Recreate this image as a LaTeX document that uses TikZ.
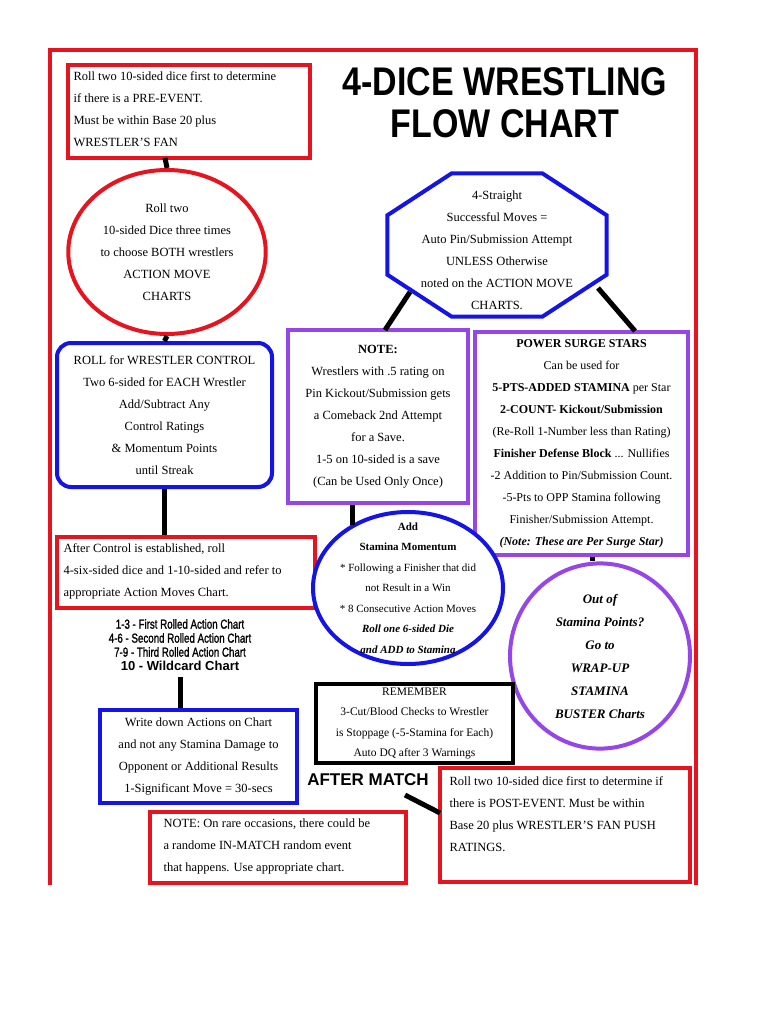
\documentclass[tikz,border=0pt]{standalone}
\usepackage{fontspec}
\setmainfont{Liberation Serif}
\setsansfont{Liberation Sans}
\usetikzlibrary{shapes.geometric}
\definecolor{rd}{RGB}{230,20,30}
\definecolor{bl}{RGB}{20,20,230}
\definecolor{pu}{RGB}{150,70,230}
\tikzset{
 box/.style={draw=#1,line width=4pt,fill=white,text=black},
 txt/.style={font=\fontsize{12.5}{22}\selectfont,align=center},
 ltxt/.style={font=\fontsize{12.5}{22}\selectfont,align=left,anchor=north west},
 conn/.style={line width=5pt,black},
}
\begin{document}
\begin{tikzpicture}[x=1pt,y=-1pt]
\useasboundingbox (0,0) rectangle (768,1024);
\fill[white] (0,0) rectangle (768,1024);
\draw[rd,line width=4pt] (50,885) -- (50,50) -- (696,50) -- (696,885);
% title
\node[font=\sffamily\bfseries\fontsize{40}{42}\selectfont,align=center,xscale=0.85] (title) at (505,103) {4-DICE WRESTLING\\FLOW CHART};
% left column
\draw[box=rd] (68,65) rectangle (310,158);
\node[ltxt] (b1) at (70,68) {Roll two 10-sided dice first to determine\\if there is a PRE-EVENT.\\Must be within Base 20 plus\\WRESTLER'S FAN};
\coordinate (b1s) at (165,158);
\node[draw=rd,line width=4pt,ellipse,minimum width=156pt,minimum height=164pt,txt] (c1) at (167,252) {Roll two\\10-sided Dice three times\\to choose BOTH wrestlers\\ACTION MOVE\\CHARTS};
\draw[conn] (b1s) -- (c1.north);
\node[box=bl,rounded corners=14pt,minimum width=215pt,minimum height=144pt,txt] (b2) at (164.5,415) {ROLL for WRESTLER CONTROL\\Two 6-sided for EACH Wrestler\\Add/Subtract Any\\Control Ratings\\\& Momentum Points\\until Streak};
\draw[conn] (c1.south) -- (b2.north);
\node[box=rd,minimum width=258pt,minimum height=71pt] (b3) at (186,572.5) {};
\node[ltxt] (b3t) at (60,540) {After Control is established, roll\\4-six-sided dice and 1-10-sided and refer to\\appropriate Action Moves Chart.};
\draw[conn] (b2.south) -- (b3.north -| b2.south);
\node[font=\sffamily\fontsize{13}{14}\selectfont,align=center] (list) at (180,645) {{\addfontfeature{FakeBold=1.5}\scalebox{0.75}[1]{1-3 - First Rolled Action Chart}}\\{\addfontfeature{FakeBold=1.5}\scalebox{0.75}[1]{4-6 - Second Rolled Action Chart}}\\{\addfontfeature{FakeBold=1.5}\scalebox{0.75}[1]{7-9 - Third Rolled Action Chart}}\\\bfseries 10 - Wildcard Chart};
\node[box=bl,minimum width=197pt,minimum height=93pt,txt] (b4) at (198.5,756.5) {Write down Actions on Chart\\and not any Stamina Damage to\\Opponent or Additional Results\\1-Significant Move = 30-secs};
\draw[conn] (180,677) -- (b4.north -| 180,0);
\draw[box=rd] (150,812) rectangle (406,883);
\node[ltxt] (b5) at (160,815) {NOTE: On rare occasions, there could be\\a randome IN-MATCH random event\\that happens. Use appropriate chart.};
% right part
\node[draw=bl,line width=4pt,regular polygon,regular polygon sides=8,minimum size=250pt,yscale=0.62,xscale=0.95,fill=white] (oct) at (497,245) {};
\node[txt] (octt) at (497,250) {4-Straight\\Successful Moves =\\Auto Pin/Submission Attempt\\UNLESS Otherwise\\noted on the ACTION MOVE\\CHARTS.};
\node[box=pu,minimum width=180pt,minimum height=173pt,txt] (n1) at (378,416.5) {\textbf{NOTE:}\\Wrestlers with .5 rating on\\Pin Kickout/Submission gets\\a Comeback 2nd Attempt\\for a Save.\\1-5 on 10-sided is a save\\(Can be Used Only Once)};
\node[box=pu,minimum width=213pt,minimum height=223pt,txt,font=\fontsize{12}{22}\selectfont] (n2) at (581.5,443.5) {\textbf{POWER SURGE STARS}\\Can be used for\\\textbf{5-PTS-ADDED STAMINA} per Star\\\textbf{2-COUNT- Kickout/Submission}\\(Re-Roll 1-Number less than Rating)\\\textbf{Finisher Defense Block} ... Nullifies\\-2 Addition to Pin/Submission Count.\\-5-Pts to OPP Stamina following\\Finisher/Submission Attempt.\\\textbf{\textit{(Note: These are Per Surge Star)}}};
\coordinate (o1) at (410,292);
\coordinate (o2) at (598,288);
\draw[conn] (o1) -- (385,330);
\draw[conn] (o2) -- (635,331);
\node[draw=bl,line width=4pt,ellipse,minimum width=190pt,minimum height=152pt,fill=white] (c2) at (408,588) {};
\node[font=\fontsize{11}{20.5}\selectfont,align=center] (c2t) at (408,588) {\textbf{Add}\\\textbf{Stamina Momentum}\\* Following a Finisher that did\\not Result in a Win\\* 8 Consecutive Action Moves\\\textbf{\textit{Roll one 6-sided Die}}\\\textbf{\textit{and ADD to Stamina}}};
\draw[conn] (n1.south -| 352,0) -- (352,525);
\node[draw=pu,line width=4pt,ellipse,minimum width=180pt,minimum height=156pt,font=\fontsize{13}{23}\selectfont\bfseries\itshape,align=center] (c3) at (600,656) {Out of\\Stamina Points?\\Go to\\WRAP-UP\\STAMINA\\BUSTER Charts};
\draw[conn] (n2.south -| 592,0) -- (c3.north -| 592,0);
\node[box=black,minimum width=197pt,minimum height=77pt,font=\fontsize{11.5}{20.5}\selectfont,align=center] (rem) at (414.5,723.5) {REMEMBER\\3-Cut/Blood Checks to Wrestler\\is Stoppage (-5-Stamina for Each)\\Auto DQ after 3 Warnings};
\node[font=\sffamily\bfseries\fontsize{17}{18}\selectfont] (am) at (368,780) {AFTER MATCH};
\draw[box=rd] (440,768) rectangle (690,882);
\node[ltxt] (b6) at (446,773) {Roll two 10-sided dice first to determine if\\there is POST-EVENT. Must be within\\Base 20 plus WRESTLER'S FAN PUSH\\RATINGS.};
\coordinate (b6w) at (440,813);
\draw[conn] (405,795) -- (b6w);
\end{tikzpicture}
\end{document}
